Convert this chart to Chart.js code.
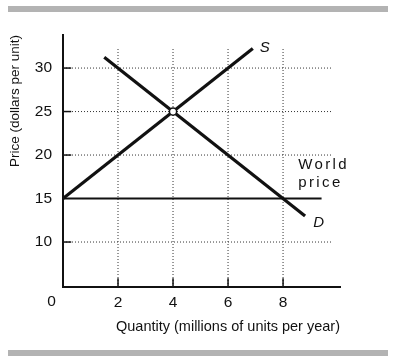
<!DOCTYPE html>
<html>
<head>
<meta charset="utf-8">
<script src="https://cdn.jsdelivr.net/npm/chart.js@4.4.0/dist/chart.umd.min.js"></script>
<style>
    html, body { margin: 0; padding: 0; background: #fff; }
    #wrap { position: relative; width: 393px; height: 362px; }
    #myChart { position: absolute; left: 0; top: 0; }
    .bar { position: absolute; left: 8px; width: 380px; height: 6px; background: #b3b3b3; }
</style>
</head>
<body>
<div id="wrap">
    <canvas id="myChart" width="393" height="362"></canvas>
    <div class="bar" style="top:6px"></div>
    <div class="bar" style="top:350px"></div>
</div>
<script>
// axis ticks
const quantityTicks = [2, 4, 6, 8];
const priceTicks = [10, 15, 20, 25, 30];

// dotted guide lines (15 is covered by the world price line)
const gridPrices = [10, 20, 25, 30];
const gridQuantities = [2, 4, 6, 8];
const gridTopPrice = 32.4;
const gridEndQuantity = 9.8;

// supply and demand curves
const supplyQ = [0, 6.9];
const supplyP = [15, 32.25];
const demandQ = [1.5, 8.8];
const demandP = [31.25, 13];

// world price
const worldPriceQ = [0, 9.4];
const worldPriceP = [15, 15];

// equilibrium point
const equilibriumQ = [4];
const equilibriumP = [25];

const FONT = '"Liberation Sans", Arial, sans-serif';
const Q_MIN = 0, Q_MAX = 10.07;
const P_MIN = 4.83, P_MAX = 33.8;

function toPoints(xs, ys) {
    return xs.map((v, i) => ({ x: v, y: ys[i] }));
}

function segment(points, style, order) {
    return Object.assign({
        data: points,
        showLine: true,
        pointRadius: 0,
        fill: false,
        tension: 0,
        order: order
    }, style);
}

const dotted = { borderColor: '#333', borderWidth: 1, borderDash: [1, 2] };
const tickMark = { borderColor: '#111', borderWidth: 1.5 };
const thick = { borderColor: '#111', borderWidth: 3.2, borderCapStyle: 'butt' };

let datasets = [];

gridPrices.forEach(p => {
    datasets.push(segment(toPoints([Q_MIN, gridEndQuantity], [p, p]), dotted, 5));
});
gridQuantities.forEach(q => {
    datasets.push(segment(toPoints([q, q], [P_MIN, gridTopPrice]), dotted, 5));
});
// short solid tick marks inside the axes
gridQuantities.forEach(q => {
    datasets.push(segment(toPoints([q, q], [P_MIN, P_MIN + 1.0]), tickMark, 4));
});
gridPrices.forEach(p => {
    datasets.push(segment(toPoints([Q_MIN, Q_MIN + 0.3], [p, p]), tickMark, 4));
});

datasets.push(segment(toPoints(worldPriceQ, worldPriceP), { borderColor: '#111', borderWidth: 2 }, 3));
datasets.push(segment(toPoints(supplyQ, supplyP), thick, 1));
datasets.push(segment(toPoints(demandQ, demandP), thick, 1));
datasets.push({
    data: toPoints(equilibriumQ, equilibriumP),
    showLine: false,
    pointRadius: 3.6,
    pointBackgroundColor: '#fff',
    pointBorderColor: '#111',
    pointBorderWidth: 1.5,
    order: 0
});

const labelPlugin = {
    id: 'curveLabels',
    afterDatasetsDraw(chart) {
        const { ctx, scales: { x, y } } = chart;
        ctx.save();
        ctx.fillStyle = '#111';
        ctx.textBaseline = 'alphabetic';
        ctx.textAlign = 'left';

        ctx.font = 'italic 15px ' + FONT;
        ctx.fillText('S', x.getPixelForValue(7.15), y.getPixelForValue(31.8));
        ctx.fillText('D', x.getPixelForValue(9.1), y.getPixelForValue(11.72));

        ctx.font = '15px ' + FONT;
        ctx.letterSpacing = '2.4px';
        ctx.fillText('World', x.getPixelForValue(8.55), y.getPixelForValue(18.39));
        ctx.fillText('price', x.getPixelForValue(8.55), y.getPixelForValue(16.32));
        ctx.letterSpacing = '0px';

        // origin label
        ctx.font = '15.5px ' + FONT;
        ctx.textAlign = 'center';
        ctx.textBaseline = 'middle';
        ctx.fillText('0', x.left - 11.5, y.bottom + 14.5);
        ctx.restore();
    }
};

const ctx = document.getElementById('myChart').getContext('2d');
const myChart = new Chart(ctx, {
    type: 'scatter',
    data: { datasets: datasets },
    options: {
        responsive: false,
        animation: false,
        layout: { padding: { top: 35, right: 53, left: 0, bottom: 0 } },
        plugins: {
            legend: { display: false },
            tooltip: { enabled: false }
        },
        scales: {
            x: {
                type: 'linear',
                min: Q_MIN,
                max: Q_MAX,
                afterBuildTicks: scale => { scale.ticks = quantityTicks.map(v => ({ value: v })); },
                afterFit: scale => { scale.height = 75; },
                grid: { display: false, drawTicks: false },
                border: { display: true, color: '#111', width: 2 },
                ticks: {
                    color: '#111',
                    padding: 6,
                    font: { family: FONT, size: 15.5 }
                },
                title: {
                    display: true,
                    text: 'Quantity (millions of units per year)',
                    align: 'end',
                    color: '#111',
                    font: { family: FONT, size: 14.5 },
                    padding: { top: 0, bottom: 26 }
                }
            },
            y: {
                type: 'linear',
                min: P_MIN,
                max: P_MAX,
                afterBuildTicks: scale => { scale.ticks = priceTicks.map(v => ({ value: v })); },
                afterFit: scale => { scale.width = 63; },
                grid: { display: false, drawTicks: false },
                border: { display: true, color: '#111', width: 2 },
                ticks: {
                    color: '#111',
                    padding: 11,
                    font: { family: FONT, size: 15.5 }
                },
                title: {
                    display: true,
                    text: 'Price (dollars per unit)',
                    align: 'end',
                    color: '#111',
                    font: { family: FONT, size: 13.5 },
                    padding: { top: 7, bottom: 0 }
                }
            }
        }
    },
    plugins: [labelPlugin]
});
</script>
</body>
</html>
